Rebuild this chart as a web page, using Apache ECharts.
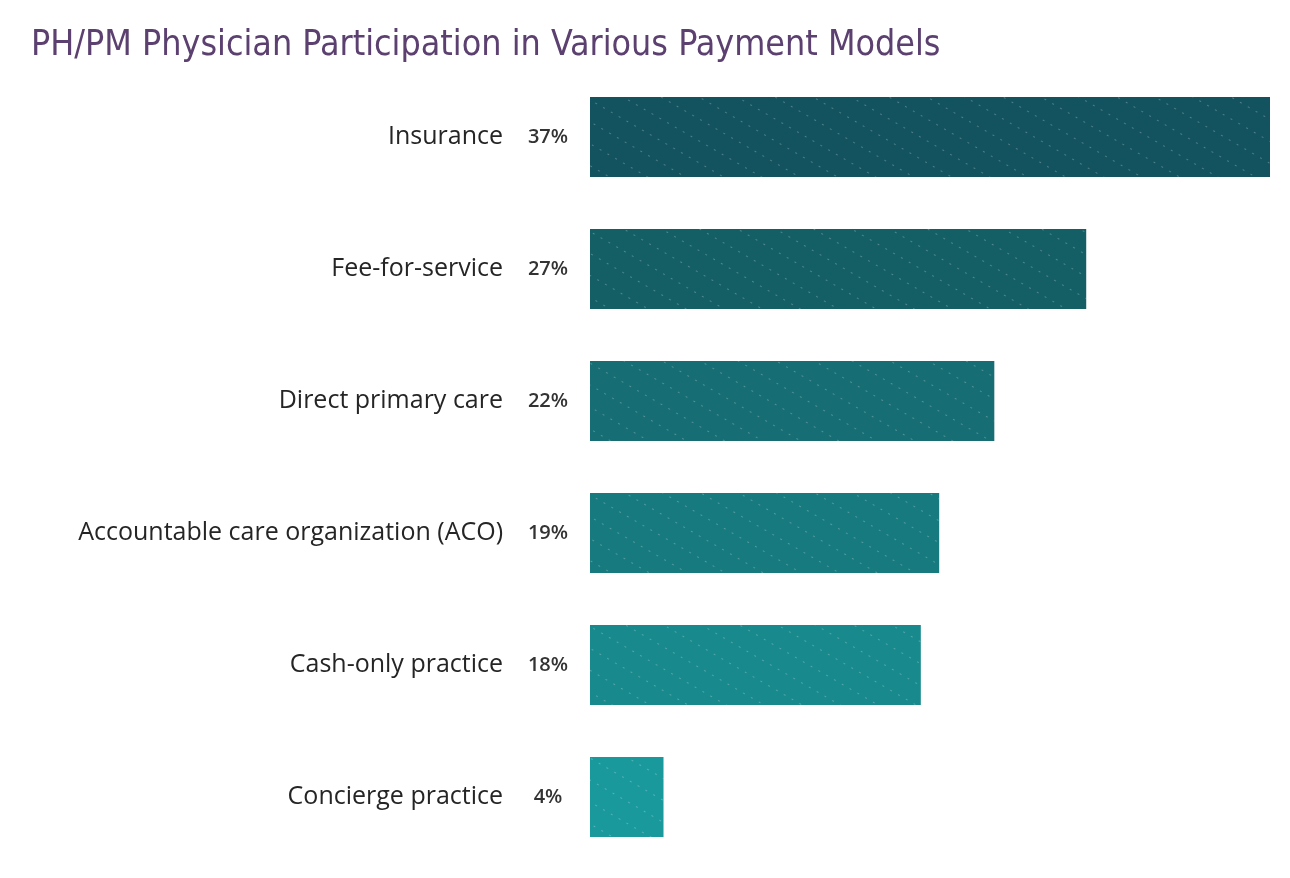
<!DOCTYPE html>
<html>
<head>
<meta charset="utf-8">
<title>PH/PM Physician Participation</title>
<script src="https://cdn.jsdelivr.net/npm/echarts@6/dist/echarts.min.js"></script>
<style>
  html, body { margin: 0; padding: 0; background: #fff; }
  #chart { width: 1290px; height: 878px; }
</style>
</head>
<body>
<div id="chart"></div>
<script>
var categories = [
  'Insurance',
  'Fee-for-service',
  'Direct primary care',
  'Accountable care organization (ACO)',
  'Cash-only practice',
  'Concierge practice'
];
var shares = [37, 27, 22, 19, 18, 4];
var barColors = ['#13535f', '#145f66', '#166d73', '#177a7e', '#18898c', '#1a999d'];

var chart = echarts.init(document.getElementById('chart'));

var option = {
  backgroundColor: '#fff',
  title: {
    text: 'PH/PM Physician Participation in Various Payment Models',
    left: 26,
    top: 23,
    textStyle: {
      fontFamily: '"DejaVu Sans Condensed", Roboto, sans-serif',
      fontWeight: 'normal',
      fontSize: 35.5,
      color: '#5b4070'
    }
  },
  grid: {
    left: 590,
    right: 20,
    top: 71,
    bottom: 15
  },
  xAxis: {
    type: 'value',
    min: 0,
    max: 37,
    show: false
  },
  yAxis: {
    type: 'category',
    inverse: true,
    data: categories,
    axisLine: { show: false },
    axisTick: { show: false },
    splitLine: { show: false },
    axisLabel: {
      margin: 2,
      formatter: function (name, i) {
        return '{n|' + name + '}{v|' + shares[i] + '%}';
      },
      rich: {
        n: {
          fontFamily: '"Open Sans", Lato, sans-serif',
          fontSize: 25,
          color: '#252525',
          padding: [0, 5, 0, 0]
        },
        v: {
          fontFamily: '"Open Sans", Lato, sans-serif',
          fontSize: 20,
          fontWeight: 600,
          color: '#333',
          width: 80,
          align: 'center'
        }
      }
    }
  },
  series: [{
    type: 'bar',
    barWidth: 80,
    data: shares.map(function (v, i) {
      return {
        value: v,
        itemStyle: {
          color: barColors[i],
          decal: {
            symbol: 'rect',
            symbolSize: 1,
            color: 'rgba(255,255,255,0.25)',
            dashArrayX: [[1.5, 7]],
            dashArrayY: [1, 18],
            rotation: Math.PI / 6
          }
        }
      };
    }),
    label: { show: false }
  }]
};

chart.setOption(option);
</script>
</body>
</html>
